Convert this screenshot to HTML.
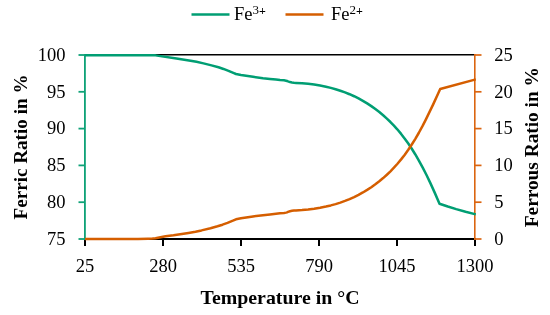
<!DOCTYPE html>
<html><head><meta charset="utf-8"><style>
html,body{margin:0;padding:0;background:#fff;width:550px;height:315px;overflow:hidden}
svg{display:block}
text{font-family:"Liberation Serif",serif;fill:#000}
.n{font-size:18.5px}
.t{font-size:19px;font-weight:bold}
.sup{font-size:13px}
.pl{font-size:12px;font-weight:bold}
</style></head><body>
<svg width="550" height="315" viewBox="0 0 550 315">
<line x1="85" y1="54.75" x2="475" y2="54.75" stroke="#000" stroke-width="1.5"/>
<line x1="84" y1="239" x2="476" y2="239" stroke="#000" stroke-width="2"/>
<line x1="85" y1="239" x2="85" y2="246" stroke="#000" stroke-width="2"/>
<line x1="163" y1="239" x2="163" y2="246" stroke="#000" stroke-width="2"/>
<line x1="241" y1="239" x2="241" y2="246" stroke="#000" stroke-width="2"/>
<line x1="319" y1="239" x2="319" y2="246" stroke="#000" stroke-width="2"/>
<line x1="397" y1="239" x2="397" y2="246" stroke="#000" stroke-width="2"/>
<line x1="475" y1="239" x2="475" y2="246" stroke="#000" stroke-width="2"/>
<line x1="84.9" y1="54" x2="84.9" y2="240" stroke="#0FA278" stroke-width="1.85"/>
<line x1="78.5" y1="55.0" x2="85" y2="55.0" stroke="#0FA278" stroke-width="1.8"/>
<line x1="78.5" y1="91.8" x2="85" y2="91.8" stroke="#0FA278" stroke-width="1.8"/>
<line x1="78.5" y1="128.6" x2="85" y2="128.6" stroke="#0FA278" stroke-width="1.8"/>
<line x1="78.5" y1="165.4" x2="85" y2="165.4" stroke="#0FA278" stroke-width="1.8"/>
<line x1="78.5" y1="202.2" x2="85" y2="202.2" stroke="#0FA278" stroke-width="1.8"/>
<line x1="78.5" y1="239.0" x2="85" y2="239.0" stroke="#0FA278" stroke-width="1.8"/>
<line x1="474.8" y1="54" x2="474.8" y2="240" stroke="#DB6510" stroke-width="1.6"/>
<line x1="474.8" y1="55.0" x2="481.5" y2="55.0" stroke="#DB6510" stroke-width="1.7"/>
<line x1="474.8" y1="91.8" x2="481.5" y2="91.8" stroke="#DB6510" stroke-width="1.7"/>
<line x1="474.8" y1="128.6" x2="481.5" y2="128.6" stroke="#DB6510" stroke-width="1.7"/>
<line x1="474.8" y1="165.4" x2="481.5" y2="165.4" stroke="#DB6510" stroke-width="1.7"/>
<line x1="474.8" y1="202.2" x2="481.5" y2="202.2" stroke="#DB6510" stroke-width="1.7"/>
<line x1="474.8" y1="239.0" x2="481.5" y2="239.0" stroke="#DB6510" stroke-width="1.7"/>
<polyline points="85.00,55.20 152.50,55.20 155.50,55.37 176.50,58.48 190.50,60.69 196.50,61.80 203.50,63.36 211.50,65.35 218.50,67.31 223.50,68.94 228.50,70.82 234.50,73.33 236.00,74.00 241.00,74.95 253.00,76.82 263.00,78.16 270.00,78.90 276.00,79.52 280.00,80.00 284.00,80.35 286.00,80.68 287.00,80.96 288.00,81.41 290.00,82.07 292.00,82.47 294.00,82.76 296.00,82.90 302.08,83.25 308.13,83.80 314.13,84.55 320.08,85.52 325.96,86.71 330.81,87.88 335.60,89.21 340.33,90.71 344.99,92.37 349.58,94.22 354.10,96.24 358.54,98.45 362.88,100.84 367.14,103.40 371.30,106.12 375.36,109.01 379.31,112.05 383.15,115.24 386.87,118.56 390.46,122.02 393.93,125.61 397.27,129.32 401.11,133.91 404.78,138.65 408.28,143.53 411.62,148.52 415.34,154.47 418.88,160.55 422.73,167.62 426.38,174.77 430.28,182.90 434.80,192.87 439.50,203.70 447.81,206.51 456.19,209.10 465.57,211.76 475.80,214.40" fill="none" stroke="#009E73" stroke-width="2.5" stroke-linejoin="round" stroke-linecap="butt"/>
<polyline points="85.00,239.00 138.00,238.98 148.00,238.71 152.50,238.56 155.50,238.24 165.50,236.33 173.50,235.27 188.50,232.94 195.50,231.70 201.50,230.41 210.50,228.22 217.50,226.28 222.50,224.70 227.50,222.88 233.50,220.40 236.00,219.30 241.00,218.35 253.00,216.48 263.00,215.14 270.00,214.40 276.00,213.78 280.00,213.30 284.00,212.95 286.00,212.62 287.00,212.34 288.00,211.89 290.00,211.23 292.00,210.83 294.00,210.54 296.00,210.40 302.08,210.05 308.13,209.50 314.13,208.75 320.08,207.78 325.96,206.59 330.81,205.42 335.60,204.09 340.33,202.59 344.99,200.93 349.58,199.08 354.10,197.06 358.54,194.85 362.88,192.46 367.14,189.90 371.30,187.18 375.36,184.29 379.31,181.25 383.15,178.06 386.87,174.74 390.46,171.28 393.93,167.69 397.27,163.98 401.11,159.39 404.78,154.65 408.28,149.77 411.62,144.78 415.34,138.83 418.88,132.75 422.73,125.68 425.93,119.38 433.07,104.63 438.15,93.56 440.20,89.00 475.80,79.35" fill="none" stroke="#D55E00" stroke-width="2.5" stroke-linejoin="round" stroke-linecap="butt"/>
<text x="65.5" y="60.7" text-anchor="end" class="n">100</text>
<text x="65.5" y="97.5" text-anchor="end" class="n">95</text>
<text x="65.5" y="134.3" text-anchor="end" class="n">90</text>
<text x="65.5" y="171.1" text-anchor="end" class="n">85</text>
<text x="65.5" y="207.9" text-anchor="end" class="n">80</text>
<text x="65.5" y="244.7" text-anchor="end" class="n">75</text>
<text x="494.2" y="60.7" class="n">25</text>
<text x="494.2" y="97.5" class="n">20</text>
<text x="494.2" y="134.3" class="n">15</text>
<text x="494.2" y="171.1" class="n">10</text>
<text x="494.2" y="207.9" class="n">5</text>
<text x="494.2" y="244.7" class="n">0</text>
<text x="85" y="272.2" text-anchor="middle" class="n">25</text>
<text x="163" y="272.2" text-anchor="middle" class="n">280</text>
<text x="241" y="272.2" text-anchor="middle" class="n">535</text>
<text x="319" y="272.2" text-anchor="middle" class="n">790</text>
<text x="397" y="272.2" text-anchor="middle" class="n">1045</text>
<text x="475" y="272.2" text-anchor="middle" class="n">1300</text>
<text x="280" y="303.9" text-anchor="middle" class="t" textLength="159" lengthAdjust="spacingAndGlyphs">Temperature in °C</text>
<text transform="translate(27,147) rotate(-90)" text-anchor="middle" class="t" textLength="145" lengthAdjust="spacingAndGlyphs">Ferric Ratio in %</text>
<text transform="translate(538.3,147.2) rotate(-90)" text-anchor="middle" class="t" textLength="160" lengthAdjust="spacingAndGlyphs">Ferrous Ratio in %</text>
<line x1="191.5" y1="14.5" x2="229.5" y2="14.5" stroke="#009E73" stroke-width="2.4"/>
<text x="234" y="20" class="n">Fe<tspan class="sup" dy="-6.1">3</tspan><tspan class="sup pl" dy="1.3">+</tspan></text>
<line x1="285.5" y1="14.5" x2="323.5" y2="14.5" stroke="#D55E00" stroke-width="2.4"/>
<text x="331" y="20" class="n">Fe<tspan class="sup" dy="-6.1">2</tspan><tspan class="sup pl" dy="1.3">+</tspan></text>
</svg>
</body></html>
